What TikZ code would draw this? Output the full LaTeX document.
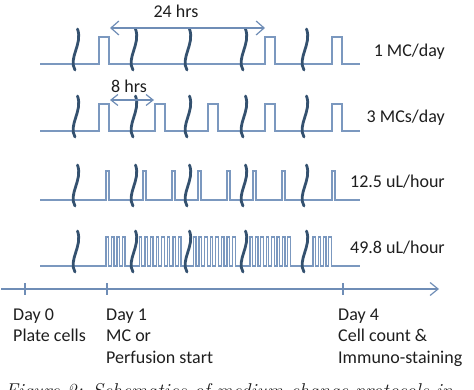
\documentclass[tikz,border=0pt]{standalone}
\usepackage{fontspec}
\setsansfont{Carlito}
\usetikzlibrary{arrows.meta}
\definecolor{wavec}{HTML}{7B98BF}
\definecolor{squigc}{HTML}{34516F}
\definecolor{axc}{HTML}{6F8DB6}
\definecolor{txt}{HTML}{1E1E1E}
\begin{document}
\begin{tikzpicture}[x=1pt,y=-1pt,
  wave/.style={draw=wavec, line width=1.2pt, line join=miter},
  squig/.style={draw=squigc, line width=2.8pt, line cap=round},
  axisline/.style={draw=axc, line width=1.2pt},
  lbl/.style={font=\sffamily\fontsize{18}{21}\selectfont, text=txt, inner sep=0pt},
  squiggle/.pic={\draw[squig] (2.5,-35) .. controls (8,-20) and (-7,-6) .. (0,6);}
]
\useasboundingbox (0,0) rectangle (474,390);
\clip (0,0) rectangle (474,390);

% row 1
\draw[wave] (40,64) foreach \p in {99,265,332} { -- (\p,64) -- (\p,37) -- ({\p+10},37) -- ({\p+10},64) } -- (360,64);
% row 2
\draw[wave] (40,131) foreach \p in {99,155,208,265,332} { -- (\p,131) -- (\p,104) -- ({\p+10},104) -- ({\p+10},131) } -- (360,131);
% row 3
\draw[wave] (40,200) foreach \p in {106,143,172,198,227,253,282,332} { -- (\p,200) -- (\p,171) -- ({\p+3},171) -- ({\p+3},200) } -- (360,200);
% row 4
\draw[wave] (40,266) foreach \p in {106,111.5,117,122.5,139.3,144.9,150.5,156.1,161.7,167.3,172.9,178.5,193.5,199,204.6,210.2,215.8,221.4,227,232.6,250,255.4,260.8,266.2,271.6,277,282.4,287.8,313,318.2,323.4,328.6} { -- (\p,266) -- (\p,237) -- ({\p+2.5},237) -- ({\p+2.5},266) } -- (360,266);

% squiggles
\foreach \b in {64,131,200,266}
  \foreach \s in {75,133,187,243,304}
    \pic at (\s,\b) {squiggle};

% time spans
\coordinate (a24l) at (110,28);
\coordinate (a24r) at (265,28);
\draw[axisline, {Straight Barb[length=8pt,width=14pt]}-{Straight Barb[length=8pt,width=14pt]}] (a24l) -- (a24r);
\node[lbl] (l24) at (176,11) {24 hrs};
\coordinate (a8l) at (110,100);
\coordinate (a8r) at (154,100);
\draw[axisline, {Straight Barb[length=7pt,width=11pt]}-{Straight Barb[length=7pt,width=11pt]}] (a8l) -- (a8r);
\node[lbl] (l8) at (129,86) {8 hrs};

% row labels
\node[lbl, anchor=base east] (r1) at (445,56.5) {1 MC/day};
\node[lbl, anchor=base east] (r2) at (445,122.5) {3 MCs/day};
\node[lbl, anchor=base east] (r3) at (445,188) {12.5 uL/hour};
\node[lbl, anchor=base east] (r4) at (445,254) {49.8 uL/hour};

% time axis
\coordinate (axs) at (1,289);
\coordinate (axe) at (439,289);
\draw[axisline, -{Straight Barb[length=8pt,width=13pt]}] (axs) -- (axe);
\foreach \t/\n in {25/t0,107/t1,343/t4} {
  \coordinate (\n a) at (\t,283);
  \coordinate (\n b) at (\t,295);
  \draw[axisline] (\n a) -- (\n b);
}

% day labels
\node[lbl, anchor=base west] (d0) at (13,320) {Day 0};
\node[lbl, anchor=base west] (d0b) at (13,341.5) {Plate cells};
\node[lbl, anchor=base west] (d1) at (106,320) {Day 1};
\node[lbl, anchor=base west] (d1b) at (106,341.5) {MC or};
\node[lbl, anchor=base west] (d1c) at (106,363) {Perfusion start};
\node[lbl, anchor=base west] (d4) at (338,320) {Day 4};
\node[lbl, anchor=base west] (d4b) at (338,341.5) {Cell count \&};
\node[lbl, anchor=base west] (d4c) at (338,363) {Immuno-staining};

% caption (cut off)
\node[anchor=base west, inner sep=0pt, text=txt, font=\rmfamily\itshape\fontsize{20}{24}\selectfont] (cap) at (5,397) {Figure 2: Schematics of medium change protocols in};
\end{tikzpicture}
\end{document}
